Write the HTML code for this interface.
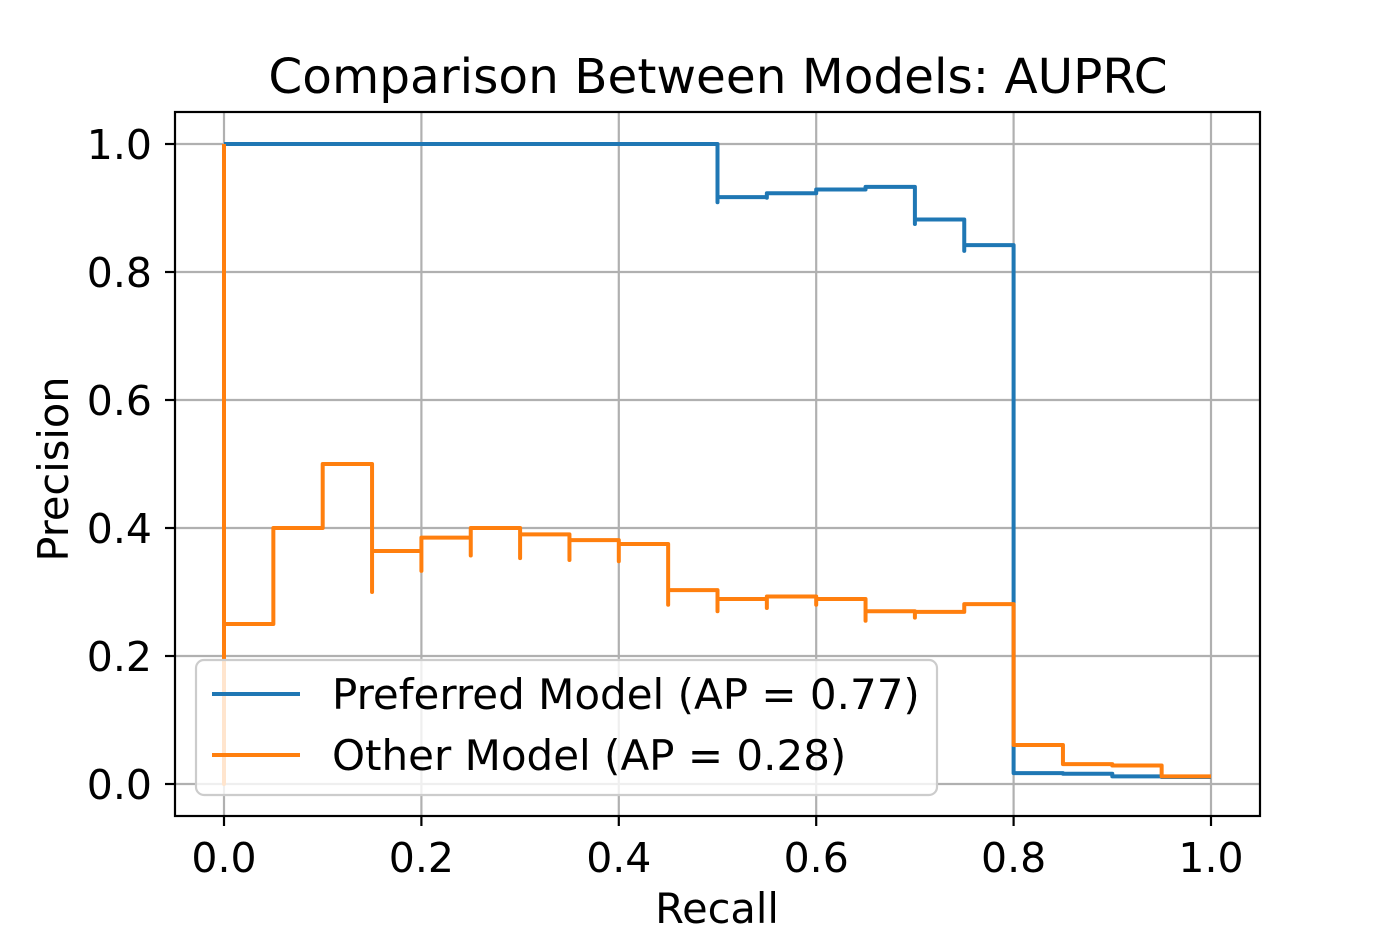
<!DOCTYPE html>
<html><head><meta charset="utf-8"><style>
html,body{margin:0;padding:0;background:#fff;}
svg{display:block;font-family:"DejaVu Sans","Liberation Sans",sans-serif;}
</style></head><body>
<svg id="chart" width="1400" height="933" viewBox="0 0 1400 933" xmlns="http://www.w3.org/2000/svg">
<g id="grid"></g>
<g id="series"></g>
<rect x="175" y="112" width="1085" height="704" fill="none" stroke="#000" stroke-width="2.2"/>
<g id="ticks"></g>
<text x="718" y="93" font-size="48.5" text-anchor="middle">Comparison Between Models: AUPRC</text>
<text x="717" y="923" font-size="41.5" text-anchor="middle">Recall</text>
<text x="68" y="469" font-size="41.5" text-anchor="middle" transform="rotate(-90 68 469)">Precision</text>
<g>
<rect x="196" y="660" width="741" height="135" rx="8" fill="#fff" fill-opacity="0.8" stroke="#ccc" stroke-width="2.2"/>
<line x1="212" y1="694" x2="300" y2="694" stroke="#1f77b4" stroke-width="4"/>
<text x="332" y="709" font-size="42">Preferred Model (AP = 0.77)</text>
<line x1="212" y1="755" x2="300" y2="755" stroke="#ff7f0e" stroke-width="4"/>
<text x="332" y="770" font-size="42">Other Model (AP = 0.28)</text>
</g>
</svg>
<script>
const xTicks=[0,0.2,0.4,0.6,0.8,1.0];
const xTickLabels=["0.0","0.2","0.4","0.6","0.8","1.0"];
const yTicks=[0,0.2,0.4,0.6,0.8,1.0];
const yTickLabels=["0.0","0.2","0.4","0.6","0.8","1.0"];
// ascending recall order points
const preferredRecall=[0,0.5,0.5,0.55,0.55,0.6,0.65,0.7,0.7,0.75,0.75,0.8,0.85,0.9,0.95,1.0];
const preferredPrecision=[1.0,1.0,0.909,0.917,0.916,0.923,0.929,0.933,0.875,0.882,0.833,0.842,0.017,0.016,0.012,0.011];
const otherRecall=[0,0,0,0.05,0.1,0.15,0.15,0.2,0.2,0.25,0.25,0.3,0.3,0.35,0.35,0.4,0.4,0.45,0.45,0.5,0.5,0.55,0.55,0.6,0.6,0.65,0.65,0.7,0.7,0.75,0.8,0.85,0.9,0.95,1.0];
const otherPrecision=[1.0,0.0,0.2,0.25,0.4,0.5,0.3,0.364,0.333,0.385,0.357,0.4,0.353,0.39,0.35,0.381,0.348,0.375,0.28,0.303,0.27,0.289,0.275,0.293,0.28,0.289,0.255,0.27,0.26,0.269,0.281,0.061,0.031,0.029,0.012];
const NS="http://www.w3.org/2000/svg";
const X0=224,X1=1211,Y0=784,Y1=144;
const xs=v=>X0+(X1-X0)*v, ys=v=>Y0-(Y0-Y1)*v;
function mk(tag,attrs,parent){const e=document.createElementNS(NS,tag);for(const k in attrs)e.setAttribute(k,attrs[k]);parent.appendChild(e);return e;}
const grid=document.getElementById('grid'),ticks=document.getElementById('ticks'),series=document.getElementById('series');
xTicks.forEach((t,i)=>{
  const g=mk('line',{x1:xs(t),x2:xs(t),y1:112,y2:816,stroke:'#b0b0b0','stroke-width':2.2},grid);
  
  
  const tk=mk('line',{x1:xs(t),x2:xs(t),y1:816,y2:826,stroke:'#000','stroke-width':2.2},ticks);
  
  
  const tl=mk('text',{x:xs(t),y:872,'font-size':41,'text-anchor':'middle'},ticks);
  
  
  tl.textContent=xTickLabels[i];
});
yTicks.forEach((t,i)=>{
  const g=mk('line',{x1:175,x2:1260,y1:ys(t),y2:ys(t),stroke:'#b0b0b0','stroke-width':2.2},grid);
  
  
  const tk=mk('line',{x1:165,x2:175,y1:ys(t),y2:ys(t),stroke:'#000','stroke-width':2.2},ticks);
  
  
  const tl=mk('text',{x:152,y:ys(t)+15,'font-size':41,'text-anchor':'end'},ticks);
  
  
  tl.textContent=yTickLabels[i];
});
function stepPath(r,p){
  const R=r.slice().reverse(),P=p.slice().reverse();
  let d='M'+xs(R[0])+' '+ys(P[0]);
  for(let i=1;i<R.length;i++){d+=' L'+xs(R[i])+' '+ys(P[i-1])+' L'+xs(R[i])+' '+ys(P[i]);}
  return d;
}
const pb=mk('path',{d:stepPath(preferredRecall,preferredPrecision),fill:'none',stroke:'#1f77b4','stroke-width':4,'stroke-linejoin':'round'},series);


const po=mk('path',{d:stepPath(otherRecall,otherPrecision),fill:'none',stroke:'#ff7f0e','stroke-width':4,'stroke-linejoin':'round'},series);


</script>
</body></html>
